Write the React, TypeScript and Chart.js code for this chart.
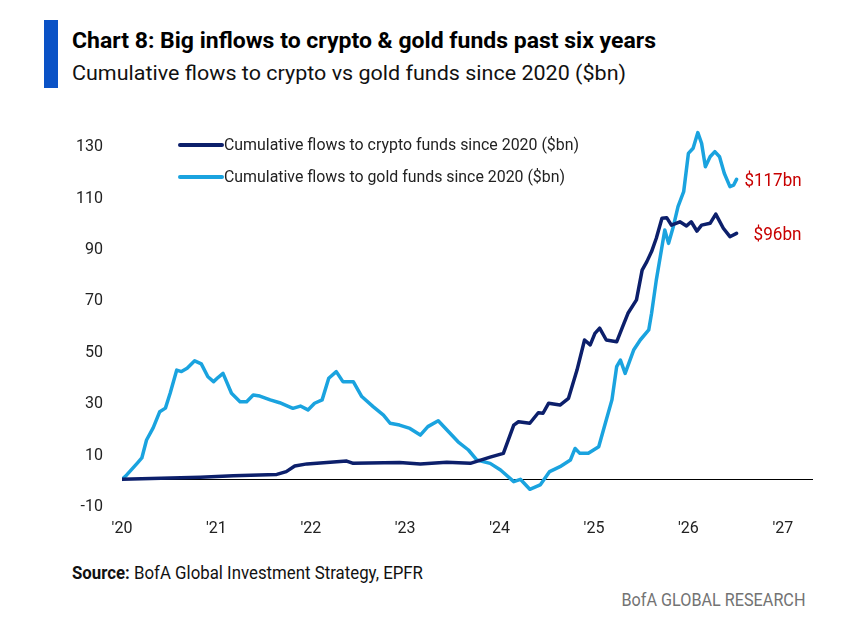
import React, { useEffect, useLayoutEffect, useRef } from "react";
import { Chart, registerables } from "chart.js";

Chart.register(...registerables);

// ---- data (x = fractional year) ----
const cryptoDates = [
  2020.0, 2020.83, 2021.18, 2021.64, 2021.74, 2021.83, 2021.96, 2022.17, 2022.38, 2022.45,
  2022.94, 2023.16, 2023.44, 2023.69, 2023.9, 2024.04, 2024.15, 2024.2, 2024.32, 2024.41,
  2024.46, 2024.52, 2024.64, 2024.73, 2024.82, 2024.9, 2024.96, 2025.01, 2025.06, 2025.13,
  2025.24, 2025.31, 2025.36, 2025.45, 2025.51, 2025.56, 2025.61, 2025.66, 2025.72, 2025.77,
  2025.82, 2025.91, 2025.98, 2026.03, 2026.09, 2026.14, 2026.23, 2026.29, 2026.37, 2026.44,
  2026.51,
];
const cryptoValues = [
  0, 0.8, 1.4, 1.9, 3, 5.2, 6, 6.5, 7.1, 6.2,
  6.5, 6, 6.6, 6.2, 8.6, 10.1, 21.1, 22.4, 21.8, 25.9,
  25.7, 29.6, 28.9, 31.5, 42.5, 54.2, 52.3, 56.8, 58.8, 54.2,
  53.5, 60, 64.6, 69.8, 81.4, 84.7, 88.6, 93.8, 101.6, 101.8,
  98.9, 100.2, 98.6, 100.2, 96.6, 98.9, 99.6, 103.2, 97.7, 94.4,
  95.7,
];

const goldDates = [
  2020.0, 2020.05, 2020.16, 2020.21, 2020.26, 2020.33, 2020.4, 2020.46, 2020.51, 2020.58,
  2020.63, 2020.69, 2020.77, 2020.84, 2020.91, 2020.97, 2021.02, 2021.07, 2021.16, 2021.25,
  2021.32, 2021.39, 2021.46, 2021.57, 2021.67, 2021.81, 2021.89, 2021.97, 2022.04, 2022.12,
  2022.19, 2022.27, 2022.34, 2022.45, 2022.54, 2022.66, 2022.77, 2022.84, 2022.94, 2023.05,
  2023.16, 2023.24, 2023.35, 2023.46, 2023.56, 2023.67, 2023.76, 2023.9, 2024.01, 2024.15,
  2024.22, 2024.32, 2024.43, 2024.53, 2024.64, 2024.75, 2024.8, 2024.85, 2024.94, 2025.05,
  2025.12, 2025.19, 2025.24, 2025.28, 2025.33, 2025.42, 2025.49, 2025.58, 2025.61, 2025.66,
  2025.72, 2025.75, 2025.79, 2025.84, 2025.89, 2025.95, 2026.0, 2026.05, 2026.1, 2026.14,
  2026.18, 2026.23, 2026.28, 2026.33, 2026.38, 2026.44, 2026.48, 2026.51,
];
const goldValues = [
  0, 1.7, 6.2, 8.3, 15.3, 20, 26.3, 27.7, 33.5, 42.5,
  41.9, 43.2, 46.1, 44.9, 39.9, 38, 39.7, 41.2, 33.5, 30.2,
  30.2, 32.8, 32.4, 30.9, 29.8, 27.6, 28.5, 27, 29.6, 30.9,
  39.3, 41.9, 38, 38, 32.2, 28.3, 25, 21.8, 21.1, 19.8,
  17.2, 20.5, 22.8, 18.5, 14.6, 11.4, 7.5, 6.2, 3.6, -0.9,
  0, -3.9, -2.2, 3, 4.9, 7.5, 12, 10.1, 10.1, 12.7,
  21.8, 30.9, 43.8, 46.4, 41.2, 50.3, 54.2, 58.1, 64.6, 77.5,
  90.5, 97, 91.8, 98.3, 106.1, 111.9, 126.8, 128.8, 134.9, 130.7,
  121.6, 125.5, 127.5, 125.5, 119.1, 113.9, 114.5, 116.7,
];

const seriesLabels = [
  "Cumulative flows to crypto funds since 2020 ($bn)",
  "Cumulative flows to gold funds since 2020 ($bn)",
];
const endLabels = ["$96bn", "$117bn"];
const xTickYears = [2020, 2021, 2022, 2023, 2024, 2025, 2026, 2027];
const xTickLabels = ["'20", "'21", "'22", "'23", "'24", "'25", "'26", "'27"];
const yTicks = [-10, 10, 30, 50, 70, 90, 110, 130];

const NAVY = "#0c1f6b";
const LIGHT = "#1aa3df";
const RED = "#c80000";
const FONT = 'Roboto, "Noto Sans", "Liberation Sans", sans-serif';

const legendWidths = [355, 341];
const endLabelWidths = [48, 57];

const overlayPlugin = {
  id: "overlay",
  beforeDatasetsDraw(chart: any) {
    const { ctx, chartArea, scales } = chart;
    const y0 = scales.y.getPixelForValue(0);
    ctx.save();
    ctx.strokeStyle = "#000";
    ctx.lineWidth = 1.2;
    ctx.beginPath();
    ctx.moveTo(chartArea.left, Math.round(y0) + 0.5);
    ctx.lineTo(chartArea.right, Math.round(y0) + 0.5);
    ctx.stroke();
    ctx.restore();
  },
  afterDatasetsDraw(chart: any) {
    const { ctx, chartArea } = chart;
    ctx.save();
    // legend
    const lx = chartArea.left + 58;
    const rows = [chartArea.top + 25.5, chartArea.top + 57.5];
    chart.data.datasets.forEach((ds: any, i: number) => {
      const y = rows[i];
      ctx.strokeStyle = ds.borderColor;
      ctx.lineWidth = 4;
      ctx.lineCap = "round";
      ctx.beginPath();
      ctx.moveTo(lx, y);
      ctx.lineTo(lx + 42, y);
      ctx.stroke();
      ctx.fillStyle = "#222";
      ctx.font = `16px ${FONT}`;
      ctx.textAlign = "left";
      ctx.textBaseline = "middle";
      ctx.fillText(ds.label, lx + 44, y + 1, legendWidths[i]);
    });
    // end labels
    chart.data.datasets.forEach((ds: any, i: number) => {
      const meta = chart.getDatasetMeta(i);
      const last = meta.data[meta.data.length - 1];
      ctx.fillStyle = RED;
      ctx.font = `19px ${FONT}`;
      ctx.textAlign = "right";
      ctx.textBaseline = "middle";
      ctx.fillText(endLabels[i], last.x + 65, last.y + 2, endLabelWidths[i]);
    });
    ctx.restore();
  },
};

function FitText({ width, align, style, children }: any) {
  const ref = useRef<HTMLSpanElement | null>(null);
  useLayoutEffect(() => {
    const el = ref.current;
    if (!el) return;
    el.style.transform = "none";
    const w = el.getBoundingClientRect().width;
    if (w > 0) el.style.transform = `scaleX(${width / w})`;
  });
  return (
    <span
      ref={ref}
      style={{
        display: "inline-block",
        whiteSpace: "nowrap",
        transformOrigin: align === "right" ? "right top" : "left top",
        ...style,
      }}
    >
      {children}
    </span>
  );
}

function ChartCanvas() {
  const ref = useRef<HTMLCanvasElement | null>(null);
  useEffect(() => {
    if (!ref.current) return;
    const chart = new Chart(ref.current, {
      type: "line",
      data: {
        datasets: [
          {
            label: seriesLabels[0],
            data: cryptoDates.map((x, i) => ({ x, y: cryptoValues[i] })),
            borderColor: NAVY,
            borderWidth: 3.5,
            pointRadius: 0,
            tension: 0,
            borderJoinStyle: "round",
            borderCapStyle: "round",
          },
          {
            label: seriesLabels[1],
            data: goldDates.map((x, i) => ({ x, y: goldValues[i] })),
            borderColor: LIGHT,
            borderWidth: 3.5,
            pointRadius: 0,
            tension: 0,
            borderJoinStyle: "round",
            borderCapStyle: "round",
          },
        ],
      },
      options: {
        animation: false,
        responsive: false,
        maintainAspectRatio: false,
        layout: { padding: { left: 0, right: 36, top: 11.5, bottom: 0 } },
        plugins: { legend: { display: false }, tooltip: { enabled: false } },
        scales: {
          x: {
            type: "linear",
            min: 2020,
            max: 2027.32,
            grid: { display: false, drawTicks: false },
            border: { display: false },
            afterBuildTicks: (s: any) => {
              s.ticks = xTickYears.map((v) => ({ value: v }));
            },
            afterFit: (s: any) => {
              s.height = 40;
              s.paddingLeft = 0;
              s.paddingRight = 0;
            },
            ticks: {
              padding: 14,
              maxRotation: 0,
              autoSkip: false,
              color: "#222",
              font: { family: FONT, size: 16 },
              callback: (v: any) => {
                const idx = xTickYears.indexOf(Number(v));
                return idx >= 0 ? xTickLabels[idx] : "";
              },
            },
          },
          y: {
            type: "linear",
            min: -10,
            max: 140,
            grid: { display: false, drawTicks: false },
            border: { display: false },
            afterBuildTicks: (s: any) => {
              s.ticks = yTicks.map((v) => ({ value: v }));
            },
            afterFit: (s: any) => {
              s.width = 114;
              s.paddingTop = 0;
              s.paddingBottom = 0;
            },
            ticks: {
              padding: 19,
              labelOffset: 2,
              color: "#222",
              font: { family: FONT, size: 16 },
            },
          },
        },
      },
      plugins: [overlayPlugin],
    } as any);
    return () => chart.destroy();
  }, []);
  return (
    <canvas
      ref={ref}
      width={841}
      height={437}
      style={{ position: "absolute", left: 0, top: 100, width: 841, height: 437 }}
    />
  );
}

export default function App() {
  return (
    <div style={{ position: "relative", width: 841, height: 607, fontFamily: FONT, background: "#fff" }}>
      <div style={{ position: "absolute", left: 36, top: 12, width: 14, height: 68, background: "#0a52c6" }} />
      <div style={{ position: "absolute", left: 64, top: 22, fontSize: 22, lineHeight: "22px", fontWeight: 700, color: "#000" }}>
        <FitText width={584}>Chart 8: Big inflows to crypto &amp; gold funds past six years</FitText>
      </div>
      <div style={{ position: "absolute", left: 64, top: 55, fontSize: 21, lineHeight: "21px", color: "#111" }}>
        <FitText width={554}>Cumulative flows to crypto vs gold funds since 2020 ($bn)</FitText>
      </div>
      <ChartCanvas />
      <div style={{ position: "absolute", left: 64, top: 556, fontSize: 18.5, lineHeight: "18.5px", color: "#111" }}>
        <FitText width={351}>
          <b>Source:</b> BofA Global Investment Strategy, EPFR
        </FitText>
      </div>
      <div style={{ position: "absolute", right: 44, top: 583, fontSize: 18, lineHeight: "18px", color: "#737373", textAlign: "right" }}>
        <FitText width={184} align="right">BofA GLOBAL RESEARCH</FitText>
      </div>
    </div>
  );
}
